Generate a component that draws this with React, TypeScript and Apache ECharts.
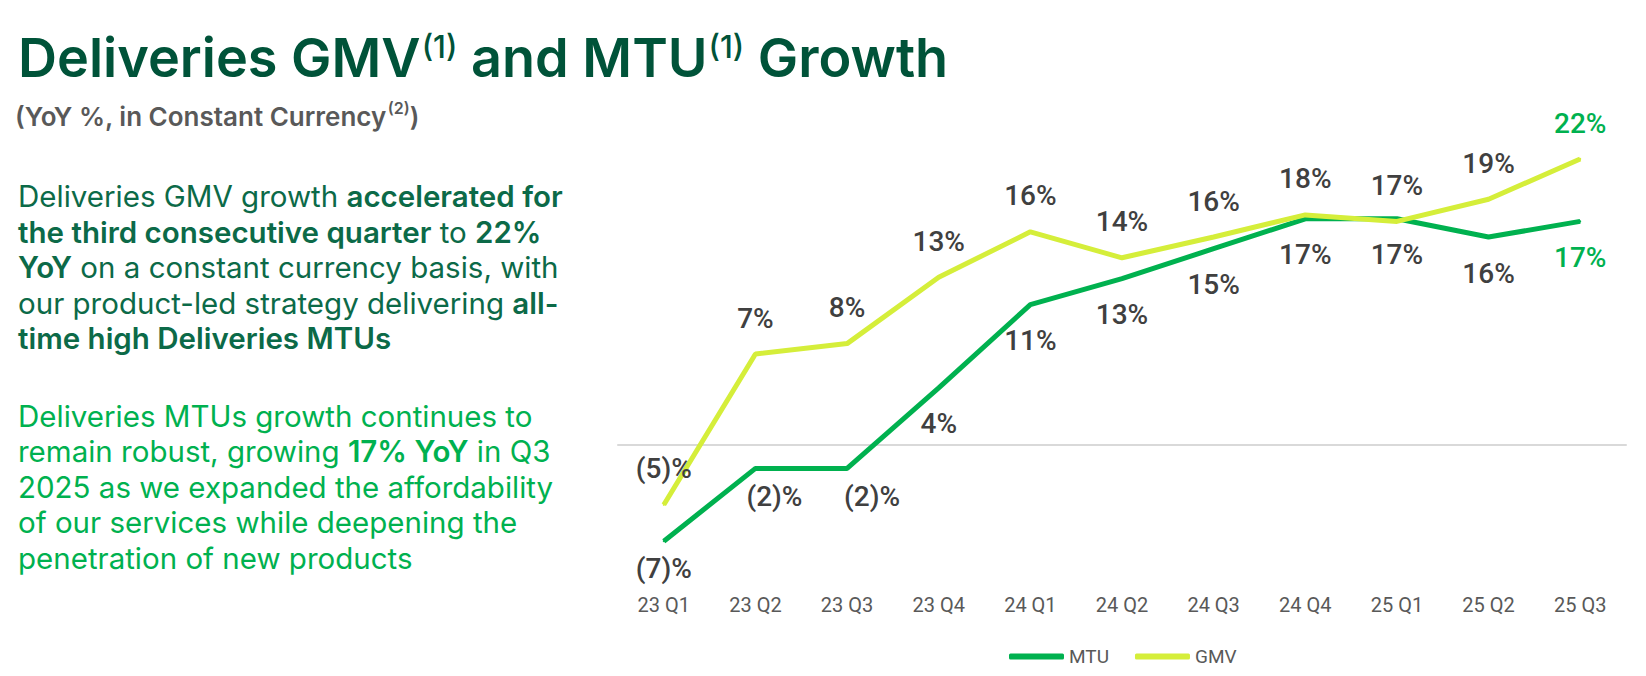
import React, { useEffect, useRef } from "react";
import * as echarts from "echarts";

const categories = ["23 Q1", "23 Q2", "23 Q3", "23 Q4", "24 Q1", "24 Q2", "24 Q3", "24 Q4", "25 Q1", "25 Q2", "25 Q3"];
const mtuValues = [-7.4, -1.8, -1.8, 4.4, 10.8, 12.8, 15.1, 17.4, 17.4, 16.0, 17.2];
const gmvValues = [-4.6, 7.0, 7.8, 12.9, 16.4, 14.4, 16.0, 17.7, 17.2, 18.9, 22.0];
const seriesNames = ["MTU", "GMV"];

const titleParts = ["Deliveries GMV", "(1)", " and MTU", "(1)", " Growth"];
const subtitleParts = ["(YoY %, in Constant Currency", "(2)", ")"];
// [text, bold]
const para1Lines: [string, boolean][][] = [
  [["Deliveries GMV growth ", false], ["accelerated for", true]],
  [["the third consecutive quarter", true], [" to ", false], ["22%", true]],
  [["YoY", true], [" on a constant currency basis, with", false]],
  [["our product-led strategy delivering ", false], ["all-", true]],
  [["time high Deliveries MTUs", true]],
];
const para2Lines: [string, boolean][][] = [
  [["Deliveries MTUs growth continues to", false]],
  [["remain robust, growing ", false], ["17% YoY", true], [" in Q3", false]],
  [["2025 as we expanded the affordability", false]],
  [["of our services while deepening the", false]],
  [["penetration of new products", false]],
];

const C_MTU = "#00b14f";
const C_GMV = "#d5ee3a";
const C_TITLE = "#005339";
const C_P1 = "#0c6a48";
const C_P2 = "#00b14f";
const C_GRAY = "#595959";
const C_LABEL = "#404040";
const FONT = "Inter, 'Noto Sans', sans-serif";
const LFONT = "Roboto, 'Liberation Sans', sans-serif";

const fmt = (v: number) => (v < 0 ? `(${Math.round(-v)})%` : `${Math.round(v)}%`);

function paraGraphics(lines: [string, boolean][][], color: string, y0: number, step: number) {
  return lines.map((line, i) => ({
    type: "text",
    x: 18,
    y: y0 + i * step,
    style: {
      text: line.map(([t, b]) => `{${b ? "b" : "n"}|${t}}`).join(""),
      align: "left",
      verticalAlign: "middle",
      rich: {
        n: { fontSize: 29.5, fontWeight: 400, fill: color, fontFamily: FONT },
        b: { fontSize: 29.5, fontWeight: 600, fill: color, fontFamily: FONT },
      },
    },
  }));
}

export default function App() {
  const ref = useRef<HTMLDivElement>(null);
  useEffect(() => {
    if (!ref.current) return;
    const chart = echarts.init(ref.current, null, { renderer: "svg" });
    const last = categories.length - 1;
    const mtuData = mtuValues.map((v, i) => {
      const label: any = {};
      if (i === 0) label.distance = 12;
      if (i === 1) { label.distance = 13; label.offset = [19, 0]; }
      if (i === 2) { label.distance = 13; label.offset = [25, 0]; }
      if (i === last) label.color = C_MTU;
      return { value: v, label };
    });
    const gmvData = gmvValues.map((v, i) => {
      const label: any = {};
      if (i === last) label.color = C_MTU;
      return { value: v, label };
    });
    const labelBase = {
      show: true,
      fontSize: 28,
      fontWeight: 500,
      fontFamily: LFONT,
      color: C_LABEL,
      distance: 21,
      formatter: (p: any) => fmt(p.value),
    };
    chart.setOption({
      animation: false,
      backgroundColor: "#ffffff",
      grid: { left: 618, top: 120, width: 1008, height: 455 },
      xAxis: [
        {
          type: "category",
          data: categories,
          axisLine: { show: false, onZero: false },
          axisTick: { show: false },
          axisLabel: { color: C_GRAY, fontSize: 20, margin: 20, fontFamily: LFONT },
          splitLine: { show: false },
        },
        {
          type: "category",
          data: categories,
          position: "bottom",
          axisLine: { show: true, onZero: true, lineStyle: { color: "#d9d9d9", width: 2 } },
          axisTick: { show: false },
          axisLabel: { show: false },
          splitLine: { show: false },
        },
      ],
      yAxis: {
        type: "value",
        min: -10,
        max: 25,
        interval: 5,
        axisLine: { show: false },
        axisTick: { show: false },
        axisLabel: { show: false },
        splitLine: { show: false },
      },
      legend: {
        data: seriesNames,
        left: 1004,
        top: 642,
        icon: "roundRect",
        itemWidth: 55,
        itemHeight: 6,
        itemGap: 26,
        textStyle: { color: C_GRAY, fontSize: 19, fontFamily: LFONT },
      },
      series: [
        {
          name: seriesNames[0],
          type: "line",
          data: mtuData,
          symbol: "circle",
          symbolSize: 2,
          itemStyle: { color: C_MTU },
          lineStyle: { color: C_MTU, width: 5 },
          label: { ...labelBase, position: "bottom" },
          z: 3,
        },
        {
          name: seriesNames[1],
          type: "line",
          data: gmvData,
          symbol: "circle",
          symbolSize: 2,
          itemStyle: { color: C_GMV },
          lineStyle: { color: C_GMV, width: 5 },
          label: { ...labelBase, position: "top" },
          z: 4,
        },
      ],
      graphic: [
        {
          type: "text",
          x: 18,
          y: 53,
          style: {
            text: titleParts.map((t, i) => `{${i % 2 === 1 ? "s" : "m"}|${t}}`).join(""),
            align: "left",
            verticalAlign: "middle",
            rich: {
              m: { fontSize: 54, fontWeight: 600, fill: C_TITLE, fontFamily: FONT, lineHeight: 62, verticalAlign: "bottom" },
              s: { fontSize: 31, fontWeight: 500, fill: C_TITLE, fontFamily: FONT, verticalAlign: "top", padding: [9, 0, 0, 1] },
            },
          },
        },
        {
          type: "text",
          x: 15,
          y: 113,
          style: {
            text: subtitleParts.map((t, i) => `{${i === 1 ? "s" : "m"}|${t}}`).join(""),
            align: "left",
            verticalAlign: "middle",
            rich: {
              m: { fontSize: 26, fontWeight: 600, fill: C_GRAY, fontFamily: FONT, lineHeight: 32, verticalAlign: "bottom" },
              s: { fontSize: 16, fontWeight: 600, fill: C_GRAY, fontFamily: FONT, verticalAlign: "top", padding: [3, 0, 0, 1] },
            },
          },
        },
        ...paraGraphics(para1Lines, C_P1, 196, 35.6),
        ...paraGraphics(para2Lines, C_P2, 416, 35.4),
      ],
    });
    return () => chart.dispose();
  }, []);
  return (
    <div
      ref={ref}
      style={{ position: "fixed", left: 0, top: 0, width: 1646, height: 676, background: "#fff" }}
    />
  );
}
